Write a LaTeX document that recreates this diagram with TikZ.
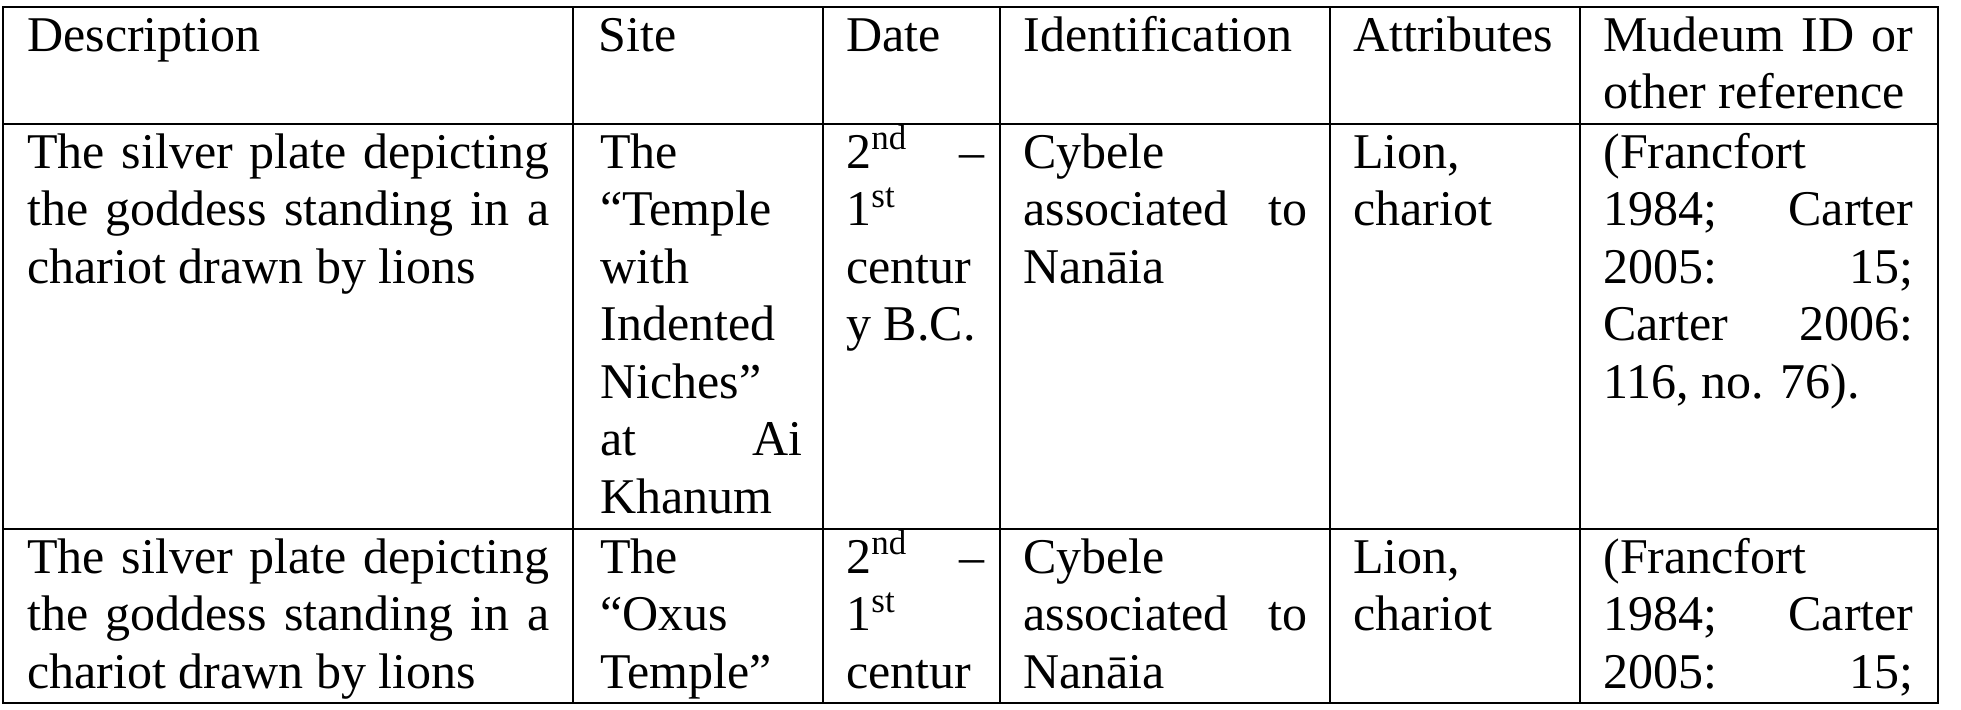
\documentclass[tikz,border=0pt]{standalone}
\usepackage{fontspec}
\setmainfont{Liberation Serif}
\newcommand\jl[1]{\hbox to \linewidth{\spaceskip=0.25em plus 1fil\relax #1}}
\newcommand\nl[1]{\hbox{#1}}
\newcommand\cellt[2]{\parbox[t]{#1}{\fontsize{25}{28.75}\selectfont #2}}
\begin{document}
\begin{tikzpicture}[x=0.5pt,y=-0.5pt,
  cell/.style={anchor=base west,inner sep=0pt},
  rule/.style={line width=1.4pt}]
\useasboundingbox (0,0) rectangle (1961,709);
% grid
\draw[rule] (3,7) rectangle (1938,703);
\foreach \y in {124,529} \draw[rule] (3,\y) -- (1938,\y);
\foreach \x in {573,823,1000,1330,1580} \draw[rule] (\x,7) -- (\x,703);
% header
\node[cell] (h1) at (27,51) {\cellt{260pt}{\nl{Description}}};
\node[cell] (h2) at (598,51) {\cellt{100pt}{\nl{Site}}};
\node[cell] (h3) at (846,51) {\cellt{70pt}{\nl{Date}}};
\node[cell] (h4) at (1023,51) {\cellt{142pt}{\nl{Identification}}};
\node[cell] (h5) at (1353,51) {\cellt{110pt}{\nl{Attributes}}};
\node[cell] (h6) at (1603,51) {\cellt{155pt}{\jl{Mudeum ID or}\nl{other reference}}};
% row 1
\node[cell] (a1) at (27,168) {\cellt{261pt}{\jl{The silver plate depicting}\jl{the goddess standing in a}\nl{chariot drawn by lions}}};
\node[cell] (a2) at (600,168) {\cellt{101pt}{\nl{The}\nl{“Temple}\nl{with}\nl{Indented}\nl{Niches”}\jl{at Ai}\nl{Khanum}}};
\node[cell] (a3) at (846,168) {\cellt{69pt}{\jl{2\textsuperscript{nd} –}\nl{1\textsuperscript{st}}\nl{centur}\nl{y B.C.}}};
\node[cell] (a4) at (1023,168) {\cellt{142pt}{\nl{Cybele}\jl{associated to}\nl{Nanāia}}};
\node[cell] (a5) at (1353,168) {\cellt{110pt}{\nl{Lion,}\nl{chariot}}};
\node[cell] (a6) at (1603,168) {\cellt{155pt}{\nl{(Francfort}\jl{1984; Carter}\jl{2005: 15;}\jl{Carter 2006:}\nl{116, no. 76).}}};
% row 2
\node[cell] (b1) at (27,573) {\cellt{261pt}{\jl{The silver plate depicting}\jl{the goddess standing in a}\nl{chariot drawn by lions}}};
\node[cell] (b2) at (600,573) {\cellt{101pt}{\nl{The}\nl{“Oxus}\nl{Temple”}}};
\node[cell] (b3) at (846,573) {\cellt{69pt}{\jl{2\textsuperscript{nd} –}\nl{1\textsuperscript{st}}\nl{centur}}};
\node[cell] (b4) at (1023,573) {\cellt{142pt}{\nl{Cybele}\jl{associated to}\nl{Nanāia}}};
\node[cell] (b5) at (1353,573) {\cellt{110pt}{\nl{Lion,}\nl{chariot}}};
\node[cell] (b6) at (1603,573) {\cellt{155pt}{\nl{(Francfort}\jl{1984; Carter}\jl{2005: 15;}}};
\end{tikzpicture}
\end{document}
